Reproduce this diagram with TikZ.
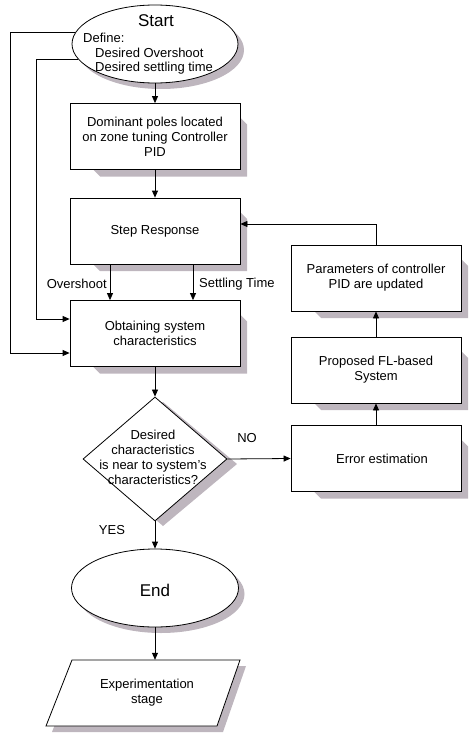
\documentclass[tikz,border=0pt]{standalone}
\usepackage{fontspec}
\setmainfont{Liberation Sans}
\usetikzlibrary{shapes.geometric,arrows.meta}
\begin{document}
\begin{tikzpicture}[x=1pt,y=-1pt,
  every node/.style={font=\fontsize{13}{15}\selectfont},
  shdfill/.style={fill={rgb,255:red,190;green,182;blue,190}},
  ln/.style={line width=0.8pt},
  box/.style={draw,ln,fill=white,minimum width=170pt,minimum height=66pt,inner sep=0pt,align=center},
  oval/.style={ellipse,draw,ln,fill=white,inner sep=0pt},
  big/.style={font=\fontsize{17}{20}\selectfont},
  arr/.style={ln,-{Triangle[length=7pt,width=6pt]}}]
\useasboundingbox (0,0) rectangle (474,741);

% shadows
\path[shdfill] (93,169.5) -- (100,176.5) -- (247,176.5) -- (247,124.5) -- (240,117.5) -- (240,169.5) -- cycle;
\path[shdfill] (93,264) -- (100,271) -- (247,271) -- (247,219) -- (240,212) -- (240,264) -- cycle;
\path[shdfill] (93,366.5) -- (100,373.5) -- (247,373.5) -- (247,321.5) -- (240,314.5) -- (240,366.5) -- cycle;
\path[shdfill] (314,311) -- (321,318) -- (468,318) -- (468,266) -- (461,259) -- (461,311) -- cycle;
\path[shdfill] (314,403) -- (321,410) -- (468,410) -- (468,358) -- (461,351) -- (461,403) -- cycle;
\path[shdfill] (314,491.5) -- (321,498.5) -- (468,498.5) -- (468,446.5) -- (461,439.5) -- (461,491.5) -- cycle;
\path[shdfill] (161,50) ellipse [x radius=83pt, y radius=39pt];
\path[shdfill] (161,594) ellipse [x radius=83.5pt, y radius=39pt];
\path[shdfill] (163,402) -- (237,464) -- (163,526) -- (91,464) -- cycle;
\path[shdfill] (78,666) -- (246,666) -- (223,732) -- (52,732) -- cycle;

% start
\node[oval,minimum width=166pt,minimum height=78pt] (start) at (155,44) {};
\node[big,anchor=base] (starttxt) at (156,27) {Start};
\node[anchor=base west,inner sep=0pt] (def1) at (83,43) {Define:};
\node[anchor=base west,inner sep=0pt] (def2) at (95,58) {Desired Overshoot};
\node[anchor=base west,inner sep=0pt] (def3) at (95,72) {Desired settling time};

% main column
\node[box] (dom) at (155,136.5) {Dominant poles located\\on zone tuning Controller\\PID};
\node[box] (stepr) at (155,231) {Step Response};
\node[box] (obt) at (155,333.5) {Obtaining system\\characteristics};
\node[diamond,draw,ln,fill=white,minimum width=144pt,minimum height=124pt,inner sep=0pt] (dia) at (155,459) {};
\node[align=center] (diatxt) at (153,457) {Desired\\characteristics\\is near to system’s\\characteristics?};
\node[oval,minimum width=167pt,minimum height=78pt] (endn) at (155,588) {};
\node[big] (endtxt) at (155,590) {End};
\path[draw,ln,fill=white] (72,660) -- (240,660) -- (217,726) -- (46,726) -- cycle;
\node[minimum height=66pt,minimum width=140pt,inner sep=0pt,align=center] (exp) at (147,693) {Experimentation\\stage};

% right column
\node[box] (par) at (376,278) {Parameters of controller\\PID are updated};
\node[box] (prop) at (376,370) {Proposed FL-based\\System};
\node[box] (err) at (376,458.5) {\hspace*{12pt}Error estimation};

% connectors
\draw[arr] (start.south) -- (dom.north);
\draw[arr] (dom) -- (stepr);
\draw[arr] ([xshift=-45pt]stepr.south) -- ([xshift=-45pt]obt.north);
\draw[arr] ([xshift=38pt]stepr.south) -- ([xshift=38pt]obt.north);
\node[anchor=east,inner sep=0pt] (lo) at (107,284) {Overshoot};
\node[anchor=west,inner sep=0pt] (ls) at (199,284) {Settling Time};

\coordinate (L1) at (10,353);
\coordinate (L2) at (36,319);
\draw[arr] (start.172) -| (L1) -- (L1 -| obt.west);
\draw[arr] (start.191) -| (L2) -- (L2 -| obt.west);

\draw[arr] (obt) -- (dia);
\draw[arr] (dia.east) -- (err.west);
\node (no) at (247,438) {NO};
\draw[arr] (err) -- (prop);
\draw[arr] (prop) -- (par);
\draw[arr] (par.north) |- ([yshift=7pt]stepr.east);
\draw[arr] (dia.south) -- (endn.north);
\node (yes) at (112,530) {YES};
\draw[arr] (endn.south) -- (endn.south |- exp.north);
\end{tikzpicture}
\end{document}
